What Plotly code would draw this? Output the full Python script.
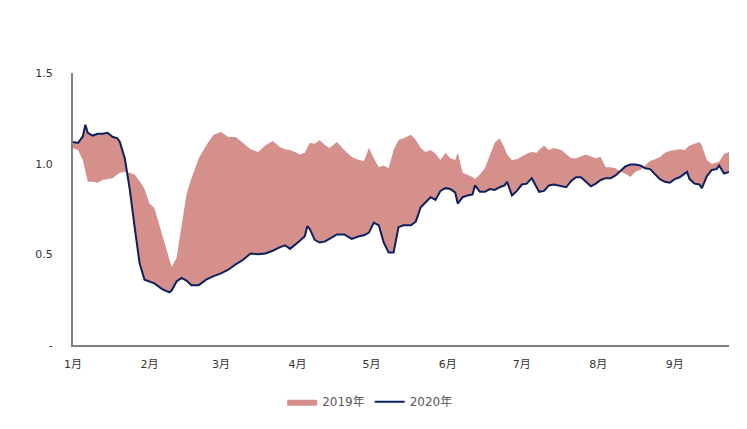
import pandas as pd
import plotly.graph_objects as go

# day offsets from 2020-01-01
days = [0, 2, 4, 5, 6, 8, 10, 12, 14, 16, 18, 19, 21, 23, 25, 27, 29, 31, 33, 36,
        39, 40, 42, 44, 46, 48, 51, 54, 57, 60, 63, 66, 69, 72, 75, 78, 81, 84, 86, 88,
        90, 92, 94, 95, 96, 98, 100, 102, 104, 107, 110, 113, 116, 118, 120, 122, 124, 126, 128, 130,
        132, 134, 137, 139, 141, 143, 145, 147, 149, 151, 153, 155, 156, 158, 160, 162, 163, 165, 167, 169,
        171, 173, 175, 176, 178, 180, 182, 184, 186, 188, 189, 191, 193, 195, 198, 200, 202, 204, 206, 208,
        210, 212, 214, 216, 218, 220, 222, 224, 226, 228, 230, 232, 234, 236, 238, 240, 242, 244, 246, 248,
        249, 250, 252, 254, 255, 257, 259, 261, 262, 264, 266]

v2020 = [1.12, 1.114, 1.15, 1.215, 1.17, 1.155, 1.165, 1.165, 1.17, 1.148, 1.14, 1.12, 1.03, 0.86, 0.65, 0.45, 0.36, 0.35, 0.34, 0.31,
         0.29, 0.30, 0.35, 0.37, 0.355, 0.33, 0.33, 0.36, 0.38, 0.395, 0.415, 0.445, 0.47, 0.505, 0.50, 0.505, 0.52, 0.54, 0.55, 0.53,
         0.55, 0.575, 0.60, 0.655, 0.64, 0.58, 0.565, 0.57, 0.585, 0.61, 0.61, 0.585, 0.60, 0.605, 0.62, 0.675, 0.66, 0.565, 0.51, 0.51,
         0.65, 0.66, 0.66, 0.68, 0.76, 0.79, 0.815, 0.80, 0.85, 0.865, 0.86, 0.84, 0.78, 0.815, 0.825, 0.83, 0.88, 0.845, 0.845, 0.86,
         0.855, 0.87, 0.88, 0.90, 0.825, 0.85, 0.885, 0.89, 0.92, 0.87, 0.845, 0.85, 0.88, 0.885, 0.875, 0.87, 0.905, 0.925, 0.925, 0.90,
         0.875, 0.89, 0.91, 0.92, 0.92, 0.935, 0.96, 0.985, 0.995, 0.995, 0.99, 0.975, 0.97, 0.945, 0.915, 0.90, 0.895, 0.915, 0.925, 0.945,
         0.955, 0.915, 0.89, 0.885, 0.865, 0.93, 0.965, 0.97, 0.99, 0.945, 0.955]

v2019 = [1.087, 1.075, 1.02, 0.955, 0.90, 0.90, 0.895, 0.91, 0.915, 0.92, 0.94, 0.95, 0.955, 0.95, 0.94, 0.905, 0.86, 0.78, 0.755, 0.61,
         0.47, 0.43, 0.48, 0.66, 0.83, 0.92, 1.03, 1.10, 1.16, 1.175, 1.147, 1.147, 1.115, 1.08, 1.065, 1.10, 1.125, 1.09, 1.08, 1.075,
         1.065, 1.05, 1.06, 1.09, 1.115, 1.11, 1.13, 1.105, 1.087, 1.12, 1.075, 1.037, 1.02, 1.015, 1.087, 1.03, 0.98, 0.99, 0.975, 1.075,
         1.13, 1.14, 1.16, 1.13, 1.087, 1.065, 1.075, 1.055, 1.02, 1.06, 1.03, 1.02, 1.06, 0.95, 0.94, 0.927, 0.915, 0.94, 0.975, 1.05,
         1.115, 1.14, 1.087, 1.05, 1.02, 1.025, 1.04, 1.055, 1.065, 1.06, 1.075, 1.10, 1.075, 1.087, 1.075, 1.05, 1.03, 1.03, 1.04, 1.05,
         1.04, 1.03, 1.037, 0.98, 0.98, 0.975, 0.955, 0.945, 0.927, 0.955, 0.965, 0.99, 1.015, 1.025, 1.037, 1.06, 1.07, 1.075, 1.08, 1.075,
         1.087, 1.10, 1.11, 1.12, 1.10, 1.02, 0.998, 1.004, 1.01, 1.053, 1.065]

month_ticks = ["2020-01-01", "2020-02-01", "2020-03-01", "2020-04-01", "2020-05-01",
               "2020-06-01", "2020-07-01", "2020-08-01", "2020-09-01"]
month_labels = ["1月", "2月", "3月", "4月", "5月", "6月", "7月", "8月", "9月"]
y_ticks = [0, 0.5, 1.0, 1.5]
y_labels = ["-", "0.5", "1.0", "1.5"]

dates = pd.Timestamp("2020-01-01") + pd.to_timedelta(days, unit="D")

FILL = "#d6908c"
NAVY = "#0c1f5e"

fig = go.Figure()
fig.add_trace(go.Scatter(x=dates, y=v2020, mode="lines", line=dict(width=0, color=NAVY),
                         showlegend=False, hoverinfo="skip"))
fig.add_trace(go.Scatter(x=dates, y=v2019, mode="lines", fill="tonexty", fillcolor=FILL,
                         line=dict(width=0, color=FILL), name="2019年"))
fig.add_trace(go.Scatter(x=dates, y=v2020, mode="lines", line=dict(width=2, color=NAVY),
                         name="2020年"))

font_family = "DejaVu Sans, Noto Sans CJK SC, sans-serif"
fig.update_layout(
    width=747, height=429,
    margin=dict(l=73, r=18, t=73, b=84),
    paper_bgcolor="white", plot_bgcolor="white",
    font=dict(family=font_family, size=11, color="#333333"),
    showlegend=True,
    legend=dict(orientation="h", x=0.453, xanchor="center", y=-0.155, yanchor="top",
                traceorder="normal",
                font=dict(size=12, color="#595959"), itemwidth=30, tracegroupgap=0),
    xaxis=dict(type="date", range=["2020-01-01", "2020-09-23"],
               tickvals=month_ticks, ticktext=month_labels,
               showgrid=False, zeroline=False, showline=True, linecolor="#808080", linewidth=2,
               ticks="", ticklabelstandoff=8, tickfont=dict(size=11, color="#333333")),
    yaxis=dict(range=[0, 1.5], tickvals=y_ticks, ticktext=y_labels,
               showgrid=False, zeroline=False, showline=True, linecolor="#808080", linewidth=2,
               ticks="", ticklabelstandoff=16, tickfont=dict(size=11, color="#333333")),
)

fig.write_html("out.html")
